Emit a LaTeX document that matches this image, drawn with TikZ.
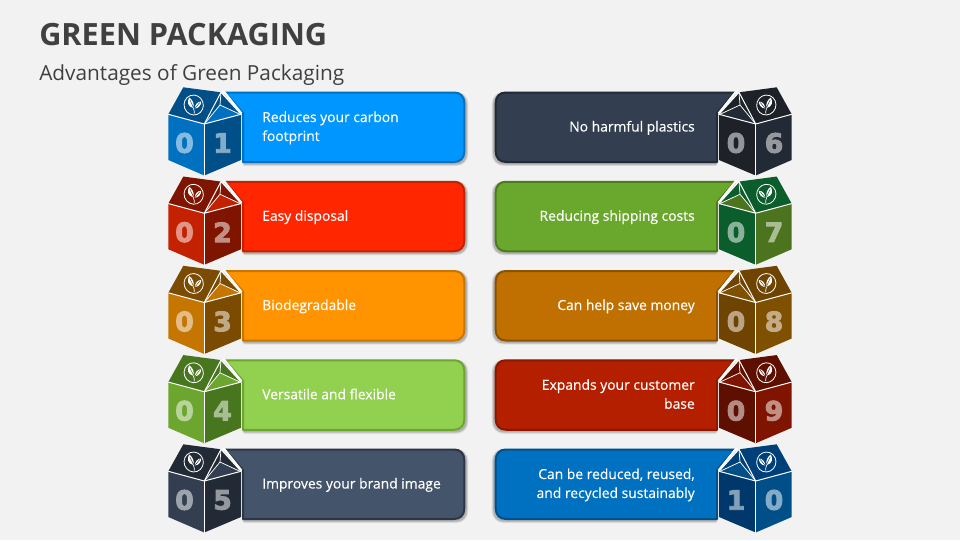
\documentclass[tikz,border=0pt]{standalone}
\usepackage{fontspec}
\setmainfont{Open Sans}
\newfontface\panelfont{Open Sans}[FakeBold=0.35]
\newfontface\digitfont{DejaVu Sans Bold}[FakeBold=3.5]
\definecolor{bgc}{HTML}{F2F2F2}
\definecolor{titlec}{HTML}{404040}
\tikzset{
  paneltext/.style={text=white,font=\panelfont\fontsize{10.4}{14.2}\selectfont,inner sep=0pt,text height=9.5pt,text depth=2pt},
  twoline/.style={yshift=-7.1pt},
  digit/.style={font=\digitfont\fontsize{20}{20}\selectfont,inner sep=0pt},
  ridge/.style={draw=white,line width=.75pt,line join=round},
}
\newcommand{\SetCols}[6]{%
  \definecolor{cPanel}{HTML}{#1}\definecolor{cEdge}{HTML}{#2}%
  \definecolor{cA}{HTML}{#3}\definecolor{cB}{HTML}{#4}%
  \definecolor{cRoof}{HTML}{#5}\definecolor{cLow}{HTML}{#6}}
% panel and house in local coordinates of the left column
\newcommand{\UnitShape}{%
  \def\panelpath{(225,92.5) -- (454,92.5) .. controls (460.5,92.5) and (464.3,96.5) .. (464.3,103) -- (464.3,151.5) .. controls (464.3,158) and (460.5,162) .. (454,162) -- (243,162) -- (243,113) -- cycle}%
  \foreach \w/\o in {5/.07,3.5/.09,2/.12}{\draw[black,opacity=\o,line width=\w*.75pt,line join=round,shift={(1.6,1.6)}] \panelpath;}%
  \fill[cPanel] \panelpath;
  \draw[cEdge,line width=1.5pt,line join=round] \panelpath;
  \draw[white,line width=1.5pt] (223.5,91) -- (241.5,113.5);
  \fill[cA] (168.3,114.3) -- (204.3,124) -- (204.3,175.5) -- (168.3,160) -- cycle;
  \fill[cB] (204.3,124) -- (241,114.3) -- (241,160) -- (204.3,175.5) -- cycle;
  \fill[cRoof] (183.3,87.3) -- (221,92.3) -- (204.3,124) -- (168.3,114.3) -- cycle;
  \fill[cRoof] (221,92.3) -- (241,114.3) -- (204.3,124) -- cycle;
  \fill[cLow] (204.3,124) -- (220,105) -- (240,114.3) -- cycle;
  \draw[ridge] (168.3,114.3) -- (204.3,124) -- (241,114.3);
  \draw[ridge] (204.3,124) -- (204.3,175.5);
  \draw[ridge] (204.3,124) -- (221,92.3) -- (241,114.3);
  \draw[ridge,line width=.55pt] (221,92.3) -- (220,105) -- (240,114.3);
  \draw[ridge,line width=.55pt] (220,105) -- (204.3,124);
  \begin{scope}[shift={(193.7,105)}]
    \draw[white,line width=.6pt,rotate=20] (0,0) ellipse[x radius=9.6,y radius=10];
    \fill[white] (-.5,3) .. controls (-6,1.5) and (-7,-3) .. (-4.5,-7.5) .. controls (-1,-5) and (1,-1) .. cycle;
    \fill[white] (1,3.5) .. controls (1.5,-1) and (4,-3.5) .. (7.5,-3.5) .. controls (7.5,0) and (5,3.5) .. cycle;
    \draw[white,line width=.5pt] (-.5,3) .. controls (.4,5) and (.8,6.5) .. (.6,8.5);
    \draw[cRoof,line width=.35pt] (-.5,2) -- (-3.8,-5);
    \draw[cRoof,line width=.35pt] (1.5,3) -- (6,-2.4);
  \end{scope}}
% [#1 text style] #2 row, #3 name, #4 left digit, #5 right digit, #6 text
\newcommand{\LeftUnit}[6][]{%
  \begin{scope}[shift={(0,#2*89.25)}]
    \UnitShape
    \node[paneltext,anchor=west,align=left,#1] (t#3) at (262,126.5) {#6};
    \node[digit,text=white!52!cA] (a#3) at (184.5,143) {#4};
    \node[digit,text=white!52!cB] (b#3) at (222.5,143) {#5};
  \end{scope}}
\newcommand{\RightUnit}[6][]{%
  \begin{scope}[shift={(960,#2*89.25)},xscale=-1]
    \UnitShape
  \end{scope}
  \begin{scope}[shift={(0,#2*89.25)}]
    \node[paneltext,anchor=east,align=right,#1] (t#3) at (695,126.5) {#6};
    \node[digit,text=white!52!cB] (a#3) at (736,143) {#4};
    \node[digit,text=white!52!cA] (b#3) at (774,143) {#5};
  \end{scope}}
\begin{document}
\begin{tikzpicture}[x=.75pt,y=-.75pt]
\useasboundingbox (0,0) rectangle (960,540);
\fill[bgc] (0,0) rectangle (960,540);
\node[anchor=base west,inner sep=0pt,text=titlec,font=\bfseries\fontsize{23}{23}\selectfont] (title) at (39,45.5) {GREEN PACKAGING};
\node[anchor=base west,inner sep=0pt,text=titlec,font=\fontsize{15.6}{16}\selectfont] (subtitle) at (39,80) {Advantages of Green Packaging};
\SetCols{0096FF}{0070C0}{0070C0}{004F88}{004F88}{0070C0}
\LeftUnit[twoline]{0}{one}{0}{1}{Reduces your carbon\\footprint}
\SetCols{FF2600}{C32100}{C32100}{7F1500}{7F1500}{C32100}
\LeftUnit{1}{two}{0}{2}{Easy disposal}
\SetCols{FF9300}{C47600}{C47600}{7A4B00}{7A4B00}{C47600}
\LeftUnit{2}{three}{0}{3}{Biodegradable}
\SetCols{92D050}{6CA62F}{6CA62F}{47761F}{47761F}{6CA62F}
\LeftUnit{3}{four}{0}{4}{Versatile and flexible}
\SetCols{44546A}{2C3644}{333F50}{222A35}{222A35}{333F50}
\LeftUnit{4}{five}{0}{5}{Improves your brand image}
\SetCols{333F50}{222A35}{222A35}{1E2228}{1E2228}{222A35}
\RightUnit{0}{six}{0}{6}{No harmful plastics}
\SetCols{6AA82D}{4C7A1F}{4C741F}{0B5E2C}{0B5E2C}{4C741F}
\RightUnit{1}{seven}{0}{7}{Reducing shipping costs}
\SetCols{BF7000}{8A5200}{7F5000}{6E4400}{6E4400}{7F5000}
\RightUnit{2}{eight}{0}{8}{Can help save money}
\SetCols{B41F00}{8A1700}{7F1500}{5E0F00}{5E0F00}{7F1500}
\RightUnit[twoline]{3}{nine}{0}{9}{Expands your customer\\base}
\SetCols{0070C0}{00508A}{004F88}{00386B}{00407A}{004F88}
\RightUnit[twoline]{4}{ten}{1}{0}{Can be reduced, reused,\\and recycled sustainably}
\end{tikzpicture}
\end{document}
